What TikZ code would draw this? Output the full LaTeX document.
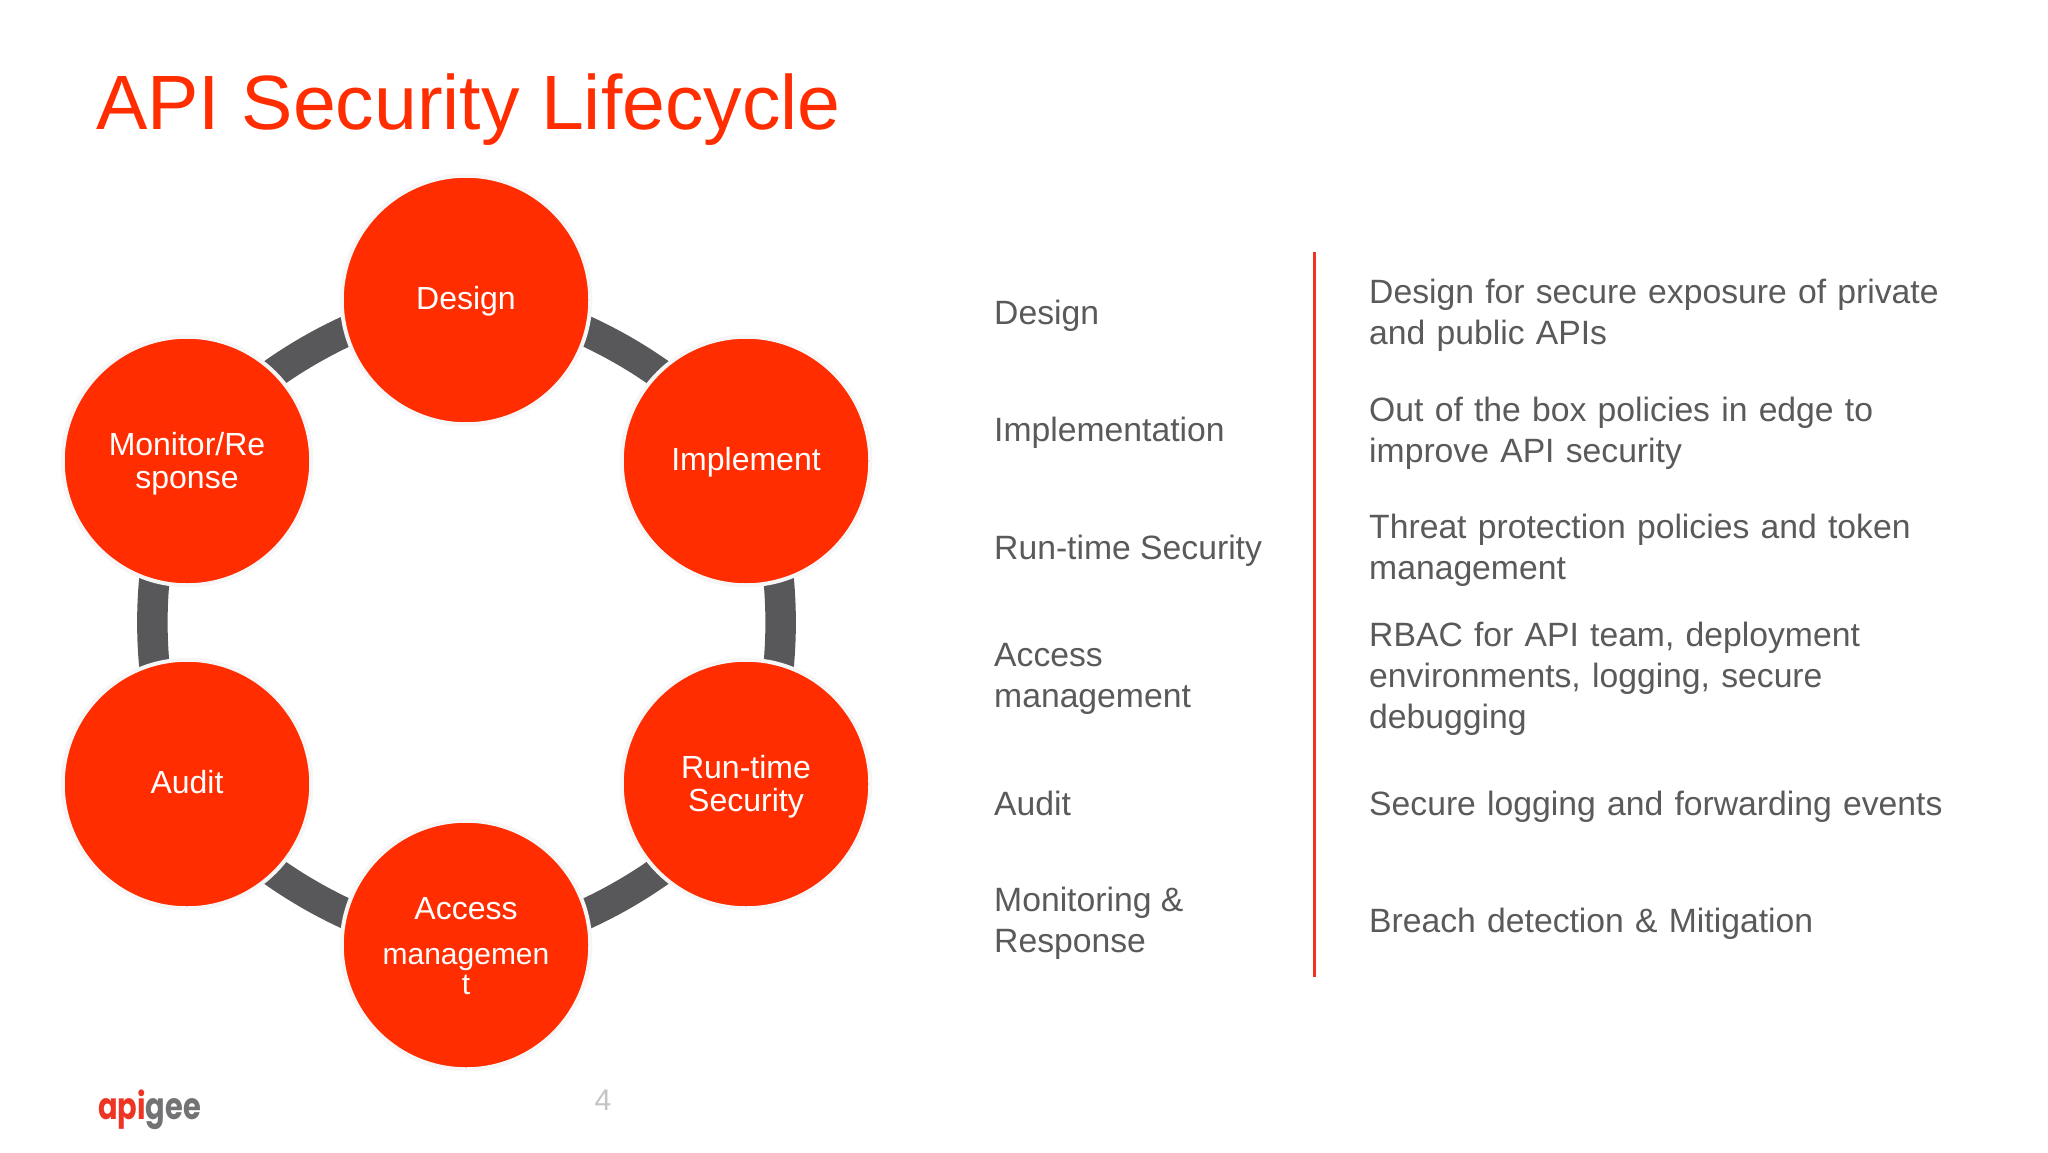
\documentclass[tikz,border=0pt]{standalone}
\usepackage{fontspec}
\setmainfont{Liberation Sans}
\newfontfamily\logofont{Poppins}
\usetikzlibrary{backgrounds}
\definecolor{apired}{HTML}{FF2D00}
\definecolor{ringgray}{HTML}{58585A}
\definecolor{txtgray}{HTML}{5A5A5C}
\definecolor{rulered}{HTML}{EE3524}
\definecolor{pagegray}{HTML}{C4C4C4}
\definecolor{halo}{HTML}{F6F6F6}
\newcommand{\fs}[2]{\fontsize{#1}{#2}\selectfont}
\tikzset{
  x=1pt,y=-1pt,
  stage/.style={circle,fill=apired,draw=halo,line width=4pt,minimum size=248.5pt,inner sep=0pt,text=white,align=center,font=\fs{32}{33},
    execute at begin node={\rule{0pt}{.9em}},execute at end node={\rule[-.3em]{0pt}{0pt}}},
  ring/.style={draw=ringgray,line width=30.5pt,looseness=0.733},
  left col/.style={anchor=west,text=txtgray,align=left,font=\fs{33.7}{41},inner sep=0pt},
  right col/.style={left col,text width=640pt},
  title/.style={anchor=west,text=apired,font=\fs{77}{80},inner sep=0pt},
}
\begin{document}
\begin{tikzpicture}
\useasboundingbox (0,0) rectangle (2048,1153);
\node[stage] (design) at (466,300) {Design};
\node[stage] (impl) at (746,461) {Implement};
\node[stage] (run) at (746,784) {\rule{0pt}{1em}Run-time\\Security};
\node[stage] (access) at (466,945) {\rule{0pt}{1.02em}Access\\[12pt]{\fs{30}{30}\selectfont managemen}\\[-3pt]{\fs{30}{30}\selectfont t}};
\node[stage] (audit) at (187,784) {Audit};
\node[stage] (mon) at (187,461) {\rule{0pt}{1em}Monitor/Re\\sponse};
\begin{scope}[on background layer]
\fill[white] (0,0) rectangle (2048,1153);
\draw[ring] (design.center) to[bend left=30] (impl.center);
\draw[ring] (impl.center) to[bend left=30] (run.center);
\draw[ring] (run.center) to[bend left=30] (access.center);
\draw[ring] (access.center) to[bend left=30] (audit.center);
\draw[ring] (audit.center) to[bend left=30] (mon.center);
\draw[ring] (mon.center) to[bend left=30] (design.center);
\end{scope}
\node[title] (ttl) at (96,110) {API Security Lifecycle};
\coordinate (ruletop) at (1314,252);
\coordinate (rulebot) at (1314,977);
\draw[rulered,line width=3pt] (ruletop) -- (rulebot);
\node[left col] (l1) at (994,316) {Design};
\node[left col] (l2) at (994,432.6) {Implementation};
\node[left col] (l3) at (994,550.6) {Run-time Security};
\node[left col] (l4) at (994,678.6) {Access\\management};
\node[left col] (l5) at (994,803) {Audit};
\node[left col] (l6) at (994,923.6) {Monitoring \&\\Response};
\node[right col] (r1) at (1369,315.6) {Design for secure exposure of private\\and public APIs};
\node[right col] (r2) at (1369,433.6) {Out of the box policies in edge to\\improve API security};
\node[right col] (r3) at (1369,550.6) {Threat protection policies and token\\management};
\node[right col] (r4) at (1369,678.6) {RBAC for API team, deployment\\environments, logging, secure\\debugging};
\node[right col] (r5) at (1369,807) {Secure logging and forwarding events};
\node[right col] (r6) at (1369,923.6) {Breach detection \& Mitigation};
\node[anchor=center,text=pagegray,font=\fs{30}{32},inner sep=0pt] (page) at (603,1100) {4};
\node[anchor=west,inner sep=0pt,font=\logofont\bfseries\fs{37}{39},xscale=0.78,transform shape] (logo) at (98,1110) {\textcolor{rulered}{api}\textcolor{txtgray!85}{gee}};
\end{tikzpicture}
\end{document}
